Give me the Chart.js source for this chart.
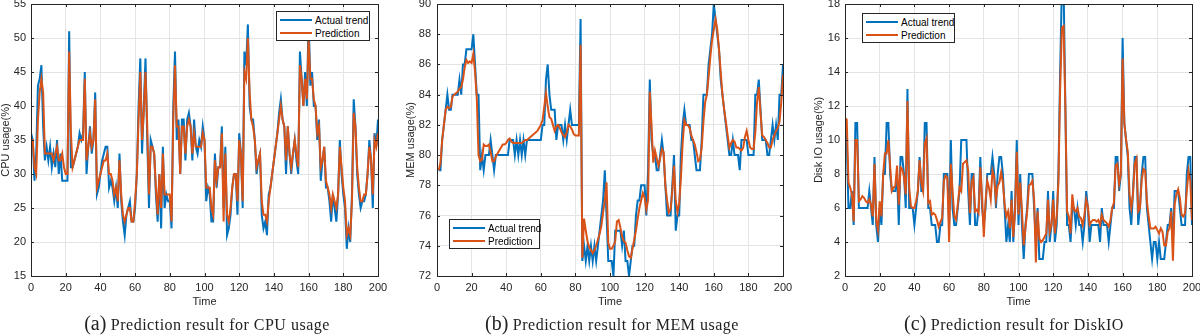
<!DOCTYPE html>
<html><head><meta charset="utf-8">
<script src="https://cdn.jsdelivr.net/npm/chart.js@4.4.1/dist/chart.umd.min.js"></script>
<style>
html,body{margin:0;padding:0;background:#fff;}
#wrap{position:relative;width:1200px;height:336px;overflow:hidden;background:#fff;}
canvas{position:absolute;top:0;}
.leg{position:absolute;box-sizing:border-box;border:1px solid #262626;background:#fff;height:30px;font:10px "Liberation Sans",Arial,sans-serif;color:#000;}
.leg .row{position:absolute;left:3px;height:12px;display:flex;align-items:center;white-space:nowrap;}
.leg .sw{display:inline-block;width:32px;height:2px;margin-right:3px;}
.cap{position:absolute;top:313px;width:400px;text-align:center;font:16px/20px "Liberation Serif","Times New Roman",serif;letter-spacing:0.5px;color:#222;white-space:nowrap;}
.cap .lab{font-size:20px;letter-spacing:0;}
</style></head>
<body>
<div id="wrap">
  <canvas id="cA" width="400" height="336" style="left:0px;width:400px;height:336px"></canvas>
  <canvas id="cB" width="405" height="336" style="left:400px;width:405px;height:336px"></canvas>
  <canvas id="cC" width="395" height="336" style="left:805px;width:395px;height:336px"></canvas>

  <div class="leg" style="left:276px;top:11px;width:94px">
    <div class="row" style="top:2px"><span class="sw" style="background:#0072BD"></span>Actual trend</div>
    <div class="row" style="top:15px"><span class="sw" style="background:#D95319"></span>Prediction</div>
  </div>
  <div class="leg" style="left:449px;top:219px;width:91px">
    <div class="row" style="top:2px"><span class="sw" style="background:#0072BD"></span>Actual trend</div>
    <div class="row" style="top:15px"><span class="sw" style="background:#D95319"></span>Prediction</div>
  </div>
  <div class="leg" style="left:862px;top:13px;width:93px">
    <div class="row" style="top:2px"><span class="sw" style="background:#0072BD"></span>Actual trend</div>
    <div class="row" style="top:15px"><span class="sw" style="background:#D95319"></span>Prediction</div>
  </div>

  <div class="cap" style="left:7px"><span class="lab">(a)</span> Prediction result for CPU usage</div>
  <div class="cap" style="left:412px"><span class="lab">(b)</span> Prediction result for MEM usage</div>
  <div class="cap" style="left:814px"><span class="lab">(c)</span> Prediction result for DiskIO</div>
</div>
<script>
// ---------- data ----------
const TIME = Array.from({length: 201}, (_, i) => i);
const X_TICKS = [0, 20, 40, 60, 80, 100, 120, 140, 160, 180, 200];

const CPU_Y_TICKS = [15, 20, 25, 30, 35, 40, 45, 50, 55];
const CPU_ACTUAL = [
  36,35,29,33,43,44,46,37,32,34,
  32,34,31,33,31,35,30,33,29,29,
  29,29,51,31,31,32,33,34,36,35,
  36,45,30,34,37,33,35,42,27,28,
  30,32,33,34,34,28,29,28,26,28,
  25,33,26,23,21,24,25,26,23,23,
  25,30,40,47,33,40,47,35,25,35,
  34,33,27,23,30,22,34,25,27,26,
  26,22,40,48,35,38,30,38,38,32,
  38,39,37,32,38,34,33,35,34,37,
  35,26,28,27,23,23,33,28,31,31,
  37,25,34,21,22,24,28,30,30,24,
  36,33,25,48,46,52,40,38,38,35,
  30,32,33,24,22,23,21,27,28,30,
  32,34,36,39,41,38,37,30,37,33,
  30,33,35,32,30,48,44,40,45,40,
  53,43,45,40,40,35,38,29,32,34,
  28,28,26,23,27,25,23,27,35,30,
  27,25,19,22,20,27,41,37,30,27,
  25,26,26,27,30,35,32,25,36,34,
  38];
const CPU_PRED = [
  35,35,31,30,38,42,44,42,33,33,
  33,33,33,32,33,34,32,32,33,31,
  30,30,48,36,31,32,33,34,35,35,
  35,44,32,34,36,34,35,41,28,29,
  30,31,32,32,33,30,30,29,27,28,
  26,32,27,24,23,24,25,25,23,23,
  26,30,38,45,35,39,45,37,27,34,
  34,33,28,24,30,25,33,27,27,27,
  27,23,38,46,37,37,30,37,37,33,
  37,38,37,33,36,34,34,34,34,36,
  35,28,28,28,25,24,32,29,31,31,
  36,23,33,24,23,25,28,30,30,26,
  35,33,26,45,44,50,42,38,37,35,
  31,32,33,26,24,24,23,26,28,30,
  32,34,36,38,40,38,37,32,37,33,
  31,33,35,33,31,46,44,40,44,41,
  50,44,44,41,40,36,37,31,32,34,
  29,28,27,25,27,26,25,27,34,31,
  28,26,21,22,21,26,39,37,31,28,
  26,26,27,27,30,34,32,27,35,34,
  36];

const MEM_Y_TICKS = [72, 74, 76, 78, 80, 82, 84, 86, 88, 90];
const MEM_ACTUAL = [
  null,79,79,81,82,83,84,83,83,84,
  84,84,84,85,84,86,86,87,87,87,
  87,88,86,84,84,79,80,79,80,80,
  80,81,80,79,80,80,80,80,80,80,
  80,80,81,81,81,80,81,80,81,80,
  81,80,81,81,81,81,81,81,81,81,
  81,82,82,85,86,84,83,83,83,81,
  82,82,82,81,82,81,82,83,82,82,
  82,82,82,89,73,74,73,74,73,74,
  73,74,73,74,75,76,77,79,76,73,
  73,73,72,75,75,75,75,74,75,73,
  73,72,73,74,74,76,77,77,78,78,
  78,76,79,85,81,80,80,79,79,80,
  81,80,78,76,76,76,78,80,75,76,
  76,80,82,83,82,82,82,81,81,80,
  79,79,79,81,84,84,84,86,87,88,
  90,89,88,87,85,84,83,82,81,80,
  80,81,80,80,80,79,81,81,81,81,
  80,80,80,80,84,84,85,83,81,81,
  81,80,80,81,82,81,82,81,84,84,
  86];
const MEM_PRED = [
  null,79,79.5,81,82,83,83.2,83.1,83.2,83.9,
  84,84.1,84.2,84.4,84.5,85,85.8,86.3,86.1,86.2,
  86.1,86.7,85.5,83.8,80,79.6,79.7,80.7,80.6,80.6,
  80.7,80.2,79.6,79.6,79.9,80.1,80.3,80.5,80.7,80.7,
  80.8,81,81.1,80.9,80.8,80.8,80.8,80.8,80.8,80.8,
  80.9,81,81,81.1,81.2,81.3,81.4,81.5,81.6,81.8,
  82,82.3,83.2,84.1,83.2,82.5,82.4,82,81.6,81.9,
  82,81.8,81.5,81.3,81.2,81.5,82,81.9,81.7,81.4,
  81.3,81.3,81.3,87.3,73.2,75.8,75,74.3,73.9,73.7,
  73.5,73.7,74,74.4,74.8,75.3,76.2,77,78.2,74.2,
  73.8,73.8,74,74.3,75.6,75.7,75.2,74.6,74.3,74.2,
  73.7,73.3,73.2,73.8,74.4,75,75.8,76.5,77,77.5,
  77.2,76.4,77,84.2,82,79.5,80.3,79.8,79.3,79.8,
  80.4,80.2,78,77,76.2,76.4,77.6,79.3,77,76.2,
  76.8,78.5,80.8,82.3,82,82,81.8,81.3,81,80.7,
  80.2,79.6,79.7,80.5,82.2,83.5,84,85.2,86.5,87.6,
  88.3,89,88.3,87,85.5,84,83,82.2,81.3,80.5,
  80.8,81,80.9,80.5,80.5,80.4,80.3,80.5,81.2,81.6,
  81,80.5,80.4,80.4,81.5,83.5,84.5,82.8,81.3,81.2,
  81,80.8,80.5,80.5,81,81.3,81.6,81.8,82.2,83.5,
  85.3];

const DISK_Y_TICKS = [2, 4, 6, 8, 10, 12, 14, 16, 18];
const DISK_ACTUAL = [
  11,10,6,6,7,5,11,11,6,6,
  6,6,6,6,7,6,5,9,5,4,
  6,5,8,8,11,11,8,7,7,7,
  8,5,9,9,8,6,13,6,6,6,
  5,6,7,9,7,7,11,11,6,6,
  5,5,5,4,4,5,5,8,8,8,
  5,10,6,5,5,6,7,10,10,10,
  10,7,5,8,8,5,5,6,9,6,
  5,6,8,8,8,9,8,6,8,9,
  9,8,6,4,5,4,7,4,6,10,
  5,8,5,3,5,6,8,8,8,6,
  4,6,3,3,3,4,4,7,4,5,
  7,4,5,8,14,19,19,12,5,5,
  4,6,6,5,6,5,5,4,5,7,
  6,4,5,5,5,5,5,4,6,5,
  5,5,4,5,6,6,9,9,7,8,
  16,11,10,9,6,5,7,9,9,5,
  6,8,9,9,6,5,4,3,4,4,
  3,4,3,3,3,4,5,5,6,4,
  7,7,7,6,5,5,5,8,9,9,
  5];
const DISK_PRED = [
  11.3,11.2,7.5,7.2,6.8,5.2,10,10,6.4,6.5,
  6.7,6.6,6.4,6.3,6.5,6.2,5.5,8.6,5.3,4.7,
  6.4,5.5,8,9.2,9.2,10,8.5,7,7.2,7.3,
  8.5,6.2,8.4,8.3,7.8,6.8,12.3,7.2,6.1,6,
  6,6.4,7,8.8,7.5,7,9.8,10.1,6.3,6.4,
  5.6,5.7,5.6,5.3,4.9,5.2,5.4,7.6,7.9,7.8,
  4,8.6,7,5.5,5.3,6.2,7.2,7,8.6,8.7,
  8.8,8.2,5.7,7.5,7.8,5.8,5.9,5.7,8.4,6.6,
  4.3,6.4,7.6,7.2,6.5,8.2,7.8,6.5,7.3,7.5,
  8.1,7.5,6.2,5.5,5.8,4.8,6.5,4.3,5.8,9.3,
  5.6,7.5,5.8,3.8,4.8,5.8,7.3,7.4,7.6,6.5,
  2.8,5.8,4.2,4,4.1,4.3,4.5,6.5,4.6,5,
  6.5,4.5,5.5,7.5,13,16.6,16.7,12,5.8,5.5,
  4.5,6.8,5.9,5.8,6,5.5,5.4,5,5.6,6.5,
  6.1,5,5.2,5.3,5.3,5.2,5.3,5,5.6,5.3,
  5.2,5.1,4.9,5.3,6,6.3,8.5,8.6,7.4,8,
  14.8,11,10,9.3,6.8,6,6.8,8.6,8.9,5.8,
  6,7.6,8.3,8.2,6.4,5.5,4.8,4.8,4.8,4.9,
  4.7,4.5,4.8,4.6,3.8,3.8,4.6,4.8,5.8,2.9,
  6.2,6.8,7.1,6.6,5.6,5.5,5.7,7,8.2,7.6,
  5.3];

// ---------- drawing ----------
const AXIS_COLOR = '#262626';
const GRID_COLOR = '#e4e4e4';
const BLUE = '#0072BD';
const ORANGE = '#D95319';
const TICK_FONT = {family: '"Liberation Sans", Arial, sans-serif', size: 11};

const framePlugin = {
  id: 'frame',
  afterDraw(chart) {
    const {ctx, chartArea: a, scales} = chart;
    ctx.save();
    ctx.strokeStyle = AXIS_COLOR;
    ctx.lineWidth = 1;
    ctx.beginPath();
    scales.x.ticks.forEach(t => {
      const px = Math.round(scales.x.getPixelForValue(t.value)) + 0.5;
      ctx.moveTo(px, a.bottom); ctx.lineTo(px, a.bottom - 3);
      ctx.moveTo(px, a.top); ctx.lineTo(px, a.top + 3);
    });
    scales.y.ticks.forEach(t => {
      const py = Math.round(scales.y.getPixelForValue(t.value)) + 0.5;
      ctx.moveTo(a.left, py); ctx.lineTo(a.left + 3, py);
      ctx.moveTo(a.right, py); ctx.lineTo(a.right - 3, py);
    });
    ctx.stroke();
    ctx.strokeRect(a.left + 0.5, a.top + 0.5, a.right - a.left, a.bottom - a.top);
    ctx.restore();
  }
};

function pts(values) {
  return values.map((v, i) => ({x: TIME[i], y: v}));
}

function makePanel(id, actual, pred, yTicks, yTitle, yAxisWidth, yTitlePad, yLabelPad, padRight) {
  new Chart(document.getElementById(id), {
    type: 'line',
    data: {
      datasets: [
        {label: 'Actual trend', data: pts(actual), borderColor: BLUE, borderWidth: 2, order: 2},
        {label: 'Prediction', data: pts(pred), borderColor: ORANGE, borderWidth: 2, order: 1}
      ]
    },
    options: {
      responsive: false,
      animation: false,
      devicePixelRatio: 1,
      parsing: false,
      spanGaps: false,
      layout: {padding: {top: 4, right: padRight, left: 0, bottom: 27}},
      elements: {point: {radius: 0}, line: {tension: 0, fill: false}},
      plugins: {legend: {display: false}, tooltip: {enabled: false}},
      scales: {
        x: {
          type: 'linear', min: 0, max: 200,
          afterBuildTicks: s => { s.ticks = X_TICKS.map(v => ({value: v})); },
          ticks: {font: TICK_FONT, color: AXIS_COLOR, padding: 5, maxRotation: 0, autoSkip: false},
          grid: {color: GRID_COLOR, drawTicks: false},
          border: {display: false},
          title: {display: true, text: 'Time', font: TICK_FONT, color: AXIS_COLOR, padding: 0},
          afterFit: s => { s.height = 33; s.paddingLeft = 0; s.paddingRight = 0; }
        },
        y: {
          type: 'linear', min: yTicks[0], max: yTicks[yTicks.length - 1],
          afterBuildTicks: s => { s.ticks = yTicks.map(v => ({value: v})); },
          ticks: {font: TICK_FONT, color: AXIS_COLOR, padding: yLabelPad, autoSkip: false},
          grid: {color: GRID_COLOR, drawTicks: false},
          border: {display: false},
          title: {display: true, text: yTitle, font: TICK_FONT, color: AXIS_COLOR, padding: {top: yTitlePad, bottom: 0}},
          afterFit: s => { s.width = yAxisWidth; s.paddingTop = 0; s.paddingBottom = 0; }
        }
      }
    },
    plugins: [framePlugin]
  });
}

makePanel('cA', CPU_ACTUAL, CPU_PRED, CPU_Y_TICKS, 'CPU usage(%)', 31, -1, 5, 22);
makePanel('cB', MEM_ACTUAL, MEM_PRED, MEM_Y_TICKS, 'MEM usage(%)', 37, 4, 6, 22);
makePanel('cC', DISK_ACTUAL, DISK_PRED, DISK_Y_TICKS, 'Disk IO usage(%)', 40, 7, 5, 8);
</script>
</body></html>
